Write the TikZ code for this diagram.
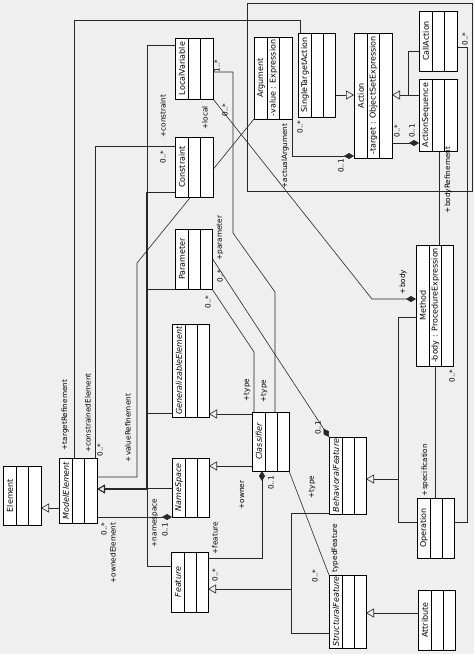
\documentclass[tikz,border=0pt]{standalone}
\usepackage{fontspec}
\setmainfont{DejaVu Sans}
\usetikzlibrary{arrows.meta}
\pgfdeclarelayer{bgl}
\pgfdeclarelayer{lines}
\pgfsetlayers{bgl,lines,main}
\definecolor{bgc}{RGB}{239,239,239}
\definecolor{ln}{RGB}{40,40,40}
\newcommand\umlbox[8]{%
  \node[clsbox, minimum width=#4pt, minimum height=#5pt, anchor=north west] (#1) at (#2,#3) {};
  \draw[clsline] ([xshift=13.5pt]#1.north west) -- ([xshift=13.5pt]#1.south west);
  \draw[clsline] ([xshift=25.5pt]#1.north west) -- ([xshift=25.5pt]#1.south west);
  \node[clstext, #8] (#1-t) at ([xshift=7pt]#1.west) {#6};
  \node[clstext] (#1-a) at ([xshift=19.5pt]#1.west) {#7};
}
\begin{document}
\begin{tikzpicture}[x=1pt,y=-1pt,
 clsbox/.style={draw=black, fill=white, line width=0.6pt, inner sep=0pt, outer sep=0pt},
 clsline/.style={line width=0.6pt},
 clstext/.style={rotate=90, font=\fontsize{8}{9}\selectfont, inner sep=0pt},
 it/.style={font=\fontsize{8}{9}\selectfont\itshape},
 lbl/.style={rotate=90, font=\fontsize{7.3}{8}\selectfont, inner sep=0pt},
 conn/.style={draw=ln, line width=0.6pt},
 gen/.style={conn, -{Triangle[open, length=8pt, width=9pt]}},
 comp/.style={conn, -{Diamond[length=10pt, width=6pt]}},
]
\useasboundingbox (0,0) rectangle (474,654);
\begin{pgfonlayer}{bgl}
\fill[bgc] (0,0) rectangle (474,654);
\end{pgfonlayer}

\umlbox{E}{3}{466}{38}{59}{Element}{}{}
\umlbox{ME}{59}{458}{38}{65}{ModelElement}{}{it}
\umlbox{NS}{172}{458}{37}{59}{NameSpace}{}{it}
\umlbox{GE}{172}{324}{37}{93}{GeneralizableElement}{}{it}
\umlbox{F}{171}{552}{37}{60}{Feature}{}{it}
\umlbox{C}{252}{412}{37}{59}{Classifier}{}{it}
\umlbox{P}{175}{229}{37}{60}{Parameter}{}{}
\umlbox{CO}{175}{137}{38}{60}{Constraint}{}{}
\umlbox{LV}{175}{38}{38}{61}{LocalVariable}{}{}
\umlbox{BF}{329}{437}{37}{77}{BehavioralFeature}{}{it}
\umlbox{SF}{329}{575}{37}{73}{StructuralFeature}{}{it}
\umlbox{AT}{418}{590}{37}{60}{Attribute}{}{}
\umlbox{OP}{417}{498}{37}{60}{Operation}{}{}
\umlbox{M}{416}{245}{37}{121}{Method}{-body : ProcedureExpression}{}
\umlbox{AR}{254}{37}{38}{82}{Argument}{-value : Expression}{}
\umlbox{STA}{298}{33}{37}{84}{SingleTargetAction}{}{}
\umlbox{A}{354}{33}{38}{125}{Action}{-target : ObjectSetExpression}{}
\umlbox{CA}{419}{11}{38}{60}{CallAction}{}{}
\umlbox{AS}{419}{79}{38}{72}{ActionSequence}{}{}

\begin{pgfonlayer}{lines}
\draw[conn] (247,3) rectangle (472,191);
\draw[gen] (ME.west |- 0,508) -- (E.east |- 0,508);
\coordinate (jt) at (147,489);
\draw[gen, line width=1.1pt] (jt) -- (ME.east |- jt);
\draw[conn, line width=1.1pt] (jt) -- (jt |- 0,192);
\draw[conn] (LV.west |- 0,45) -| (jt |- 0,192);
\draw[conn] (CO.west |- 0,192) -- (jt |- 0,192);
\draw[conn] (P.west |- 0,289) -- (jt |- 0,289);
\draw[conn] (GE.west |- 0,413) -- (jt |- 0,413);
\draw[conn] (NS.west |- 0,488) -- (jt |- 0,488);
\draw[conn] (F.west |- 0,566) -| (jt);
\draw[conn] (ME.north -| 74,0) |- (300,20) -- (STA.north -| 300,0);
\draw[conn] (ME.north -| 95,0) |- (CO.west |- 0,146);
\draw[conn] (AR.south west) -- (137,263) |- (ME.east |- 0,477);
\draw[comp] (ME.east |- 0,517) -- (NS.south west);
\draw[gen] (C.west |- 0,414) -- (GE.east |- 0,414);
\draw[gen] (C.west |- 0,466) -- (NS.east |- 0,466);
\draw[conn] (P.south east) -- (254,352) -- (C.north -| 254,0);
\draw[conn] (LV.east |- 0,72) -| (233,233) -- (275,292) -- (C.north -| 275,0);
\draw[comp] (LV.south east) -- (372,299) -- (M.west |- 0,299);
\draw[comp] (P.east |- 0,258) -- (BF.north west);
\draw[comp] (F.east |- 0,558) -| (C.south -| 262,0);
\draw[gen] (291,589) -- (F.east |- 0,589);
\draw[conn] (BF.west |- 0,513) -| (291,589);
\draw[conn] (SF.west |- 0,633) -| (291,589);
\draw[conn] (C.south east) -- (SF.north west);
\draw[gen] (AT.west |- 0,613) -- (SF.east |- 0,613);
\draw[gen] (398,479) -- (BF.east |- 0,479);
\draw[conn] (M.west |- 0,317) -| (398,479);
\draw[conn] (OP.west |- 0,522) -| (398,479);
\draw[conn] (M.south -| 435,0) -- (OP.north -| 435,0);
\draw[conn] (CA.east |- 0,47) -| (467,522) -- (OP.east |- 0,522);
\draw[conn] (AS.south -| 439,0) -- (M.north -| 439,0);
\draw[gen] (STA.east |- 0,95) -- (A.west |- 0,95);
\draw[gen] (408,95) -- (A.east |- 0,95);
\draw[conn] (CA.west |- 0,51) -| (408,95);
\draw[conn] (AS.west |- 0,95) -- (408,95);
\draw[comp] (A.east |- 0,143) -- (AS.west |- 0,143);
\draw[comp] (AR.south east) |- (A.west |- 0,156);
\end{pgfonlayer}

\node[lbl] (l1) at (65,415) {+targetRefinement};
\node[lbl] (l2) at (88,413) {+constrainedElement};
\node[lbl] (l3) at (100,450) {0..*};
\node[lbl] (l4) at (128,428) {+valueRefinement};
\node[lbl] (l5) at (104,529) {0..*};
\node[lbl] (l6) at (113,553) {+ownedElement};
\node[lbl] (l7) at (155,523) {+namespace};
\node[lbl] (l8) at (165,530) {0..1};
\node[lbl] (l9) at (242,495) {+owner};
\node[lbl] (l10) at (271,483) {0..1};
\node[lbl] (l11) at (215,538) {+feature};
\node[lbl] (l12) at (215,575) {0..*};
\node[lbl] (l13) at (247,390) {+type};
\node[lbl] (l14) at (264,391) {+type};
\node[lbl] (l15) at (208,302) {0..*};
\node[lbl] (l16) at (220,276) {0..*};
\node[lbl] (l17) at (220,238) {+parameter};
\node[lbl] (l18) at (318,428) {0..1};
\node[lbl] (l19) at (312,487) {+type};
\node[lbl] (l20) at (335,548) {typedFeature};
\node[lbl] (l21) at (315,576) {0..*};
\node[lbl] (l22) at (425,470) {+specification};
\node[lbl] (l23) at (452,376) {0..*};
\node[lbl] (l24) at (403,282) {+body};
\node[lbl] (l25) at (448,180) {+bodyRefinement};
\node[lbl] (l26) at (465,39) {0..*};
\node[lbl] (l27) at (397,131) {0..*};
\node[lbl] (l28) at (412,131) {0..1};
\node[lbl] (l29) at (300,127) {0..*};
\node[lbl] (l30) at (285,156) {+actualArgument};
\node[lbl] (l31) at (341,166) {0..1};
\node[lbl] (l32) at (163,116) {+constraint};
\node[lbl] (l33) at (163,157) {0..*};
\node[lbl] (l34) at (217,66) {1..*};
\node[lbl] (l35) at (205,118) {+local};
\node[lbl] (l36) at (225,110) {0..*};
\end{tikzpicture}
\end{document}
